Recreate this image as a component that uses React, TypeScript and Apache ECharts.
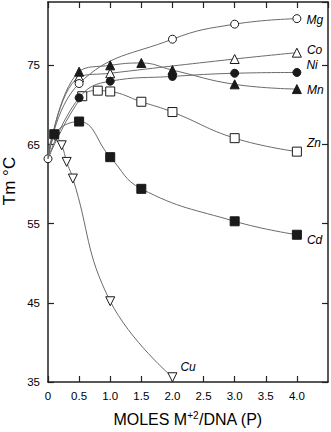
import React, { useEffect, useRef } from "react";
import * as echarts from "echarts";

// x = moles M+2 / DNA (P), y = Tm °C
const mgX = [0, 0.5, 2.0, 3.0, 4.0];
const mgY = [63.2, 72.7, 78.3, 80.2, 80.9];

const coX = [0, 0.5, 1.0, 3.0, 4.0];
const coY = [63.2, 73.5, 74.0, 75.8, 76.6];

const niX = [0, 0.5, 1.0, 2.0, 3.0, 4.0];
const niY = [63.2, 70.9, 73.0, 73.6, 74.0, 74.1];

const mnX = [0, 0.5, 1.0, 1.5, 2.0, 3.0, 4.0];
const mnY = [63.2, 74.2, 75.0, 75.3, 74.4, 72.6, 72.0];

const znX = [0, 0.55, 0.8, 1.0, 1.5, 2.0, 3.0, 4.0];
const znY = [63.2, 71.1, 71.8, 71.7, 70.4, 69.1, 65.8, 64.1];

const cdX = [0, 0.1, 0.5, 1.0, 1.5, 3.0, 4.0];
const cdY = [63.2, 66.3, 67.9, 63.4, 59.4, 55.3, 53.6];

const cuX = [0, 0.12, 0.22, 0.3, 0.4, 1.0, 2.0];
const cuY = [63.2, 66.0, 64.9, 62.8, 60.7, 45.2, 35.6];

const xTicks = [0, 0.5, 1.0, 1.5, 2.0, 2.5, 3.0, 3.5, 4.0];
const yTicks = [35, 45, 55, 65, 75];

const LINE = "#6b6b6b";
const INK = "#1a1a1a";

function makeSeries(
  name: string,
  xs: number[],
  ys: number[],
  symbol: string,
  filled: boolean,
  symbolRotate: number,
  labelPos: string,
  labelOffset: number[],
  showOrigin: boolean
) {
  const data = xs.map((x, i) => {
    const item: any = { value: [x, ys[i]] };
    if (i === 0 && !showOrigin) item.symbol = "none";
    if (i === xs.length - 1) {
      item.label = {
        show: true,
        position: labelPos,
        offset: labelOffset,
        formatter: name,
        fontStyle: "italic",
        fontSize: 12,
        color: "#000",
        fontFamily: "Liberation Sans, Arial, sans-serif",
      };
    }
    return item;
  });
  return {
    name,
    type: "line",
    smooth: 0.45,
    symbol,
    symbolSize: symbol === "circle" ? 8 : 9,
    symbolRotate,
    showAllSymbol: true,
    lineStyle: { color: LINE, width: 1 },
    itemStyle: {
      color: filled ? INK : "#fff",
      borderColor: INK,
      borderWidth: 1,
    },
    emphasis: { disabled: true },
    data,
    z: filled ? 3 : 2,
  };
}

export default function App() {
  const ref = useRef<HTMLDivElement>(null);
  useEffect(() => {
    if (!ref.current) return;
    const chart = echarts.init(ref.current, undefined, { renderer: "svg" });
    const font = "Liberation Sans, Arial, sans-serif";
    const axisLine = { show: true, onZero: false, lineStyle: { color: "#222", width: 1.5 } };
    const tick = { show: true, inside: true, length: 6, lineStyle: { color: "#222", width: 1.2 } };
    chart.setOption({
      animation: false,
      backgroundColor: "#fff",
      grid: { left: 48, right: 3, top: 2, bottom: 49, containLabel: false },
      xAxis: [
        {
          type: "value",
          min: 0,
          max: 4.5,
          interval: 0.5,
          axisLine,
          axisTick: tick,
          splitLine: { show: false },
          axisLabel: {
            showMaxLabel: false,
            margin: 8,
            fontSize: 11.5,
            color: "#000",
            fontFamily: font,
            formatter: (v: number) =>
              xTicks.includes(v) ? (v === 0 ? "0" : v.toFixed(1)) : "",
          },
          name: "MOLES M{sup|+2}/DNA (P)",
          nameLocation: "middle",
          nameGap: 28,
          nameTextStyle: {
            fontSize: 16,
            color: "#000",
            fontFamily: font,
            rich: { sup: { fontSize: 10, verticalAlign: "top", padding: [0, 0, 8, 0], fontFamily: font, color: "#000" } },
          },
        },
        {
          type: "value",
          position: "top",
          min: 0,
          max: 4.5,
          interval: 0.5,
          axisLine,
          axisTick: tick,
          axisLabel: { show: false },
          splitLine: { show: false },
        },
      ],
      yAxis: [
        {
          type: "value",
          min: 35,
          max: 83,
          interval: 10,
          axisLine,
          axisTick: tick,
          splitLine: { show: false },
          axisLabel: {
            showMaxLabel: false,
            margin: 8,
            fontSize: 11.5,
            color: "#000",
            fontFamily: font,
            formatter: (v: number) => (yTicks.includes(v) ? String(v) : ""),
          },
        },
        {
          type: "value",
          position: "right",
          min: 35,
          max: 83,
          interval: 10,
          axisLine,
          axisTick: tick,
          axisLabel: { show: false },
          splitLine: { show: false },
        },
      ],
      graphic: [
        {
          type: "text",
          x: 9,
          y: 181,
          rotation: Math.PI / 2,
          style: {
            text: "Tm °C",
            fontSize: 17,
            fontFamily: font,
            fill: "#000",
            align: "center",
            verticalAlign: "middle",
          },
        },
      ],
      series: [
        makeSeries("Zn", znX, znY, "rect", false, 0, "right", [0, -9], false),
        makeSeries("Cd", cdX, cdY, "rect", true, 0, "right", [0, 5], false),
        makeSeries("Cu", cuX, cuY, "triangle", false, 180, "right", [-2, -10], false),
        makeSeries("Ni", niX, niY, "circle", true, 0, "right", [0, -7], false),
        makeSeries("Co", coX, coY, "triangle", false, 0, "right", [0, -3], false),
        makeSeries("Mn", mnX, mnY, "triangle", true, 0, "right", [0, 1], false),
        makeSeries("Mg", mgX, mgY, "circle", false, 0, "right", [0, 1], true),
      ],
    });
    return () => chart.dispose();
  }, []);
  return (
    <div
      ref={ref}
      style={{ position: "absolute", left: 0, top: 0, width: 331, height: 432 }}
    />
  );
}
